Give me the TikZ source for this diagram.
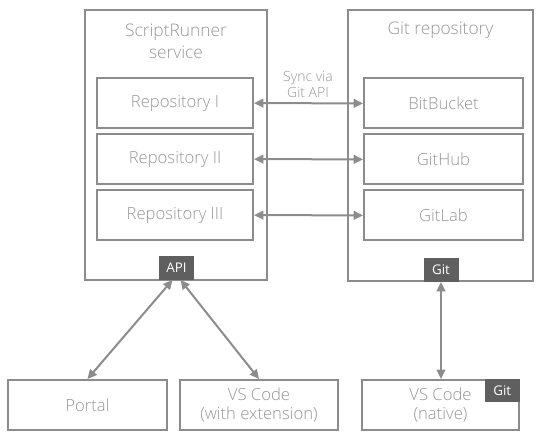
\documentclass[tikz,border=0pt]{standalone}
\usepackage{fontspec}
\setmainfont{Open Sans Light}
\newfontfamily\tagfont{Open Sans}
\usetikzlibrary{arrows.meta}
\definecolor{linegray}{RGB}{140,140,140}
\definecolor{txtgray}{RGB}{150,150,150}
\definecolor{tagdark}{RGB}{95,95,95}

\tikzset{
  box/.style={draw=linegray, line width=1.5pt, text=txtgray, inner sep=0pt, align=center, font=\fontsize{12.5}{15}\selectfont},
  tag/.style={fill=tagdark, text=white, inner sep=0pt, minimum width=26.25pt, minimum height=17.5pt, font=\tagfont\fontsize{10}{11}\selectfont},
  link/.style={draw=linegray, line width=1.5pt, {Triangle[length=7pt,width=6.5pt]}-{Triangle[length=7pt,width=6.5pt]}}
}

\begin{document}
\begin{tikzpicture}[x=0.75pt,y=0.75pt,yscale=-1]
\useasboundingbox (0,0) rectangle (544,441);

% outer boxes
\node [box, minimum width=136.5pt, minimum height=202.5pt] (runner) at (176,145) {};
\node [box, minimum width=138.75pt, minimum height=203.25pt] (gitrepo) at (440.5,145.5) {};
\node [text=txtgray, align=center, font=\fontsize{13}{16.5}\selectfont] (runnerlbl) at (176,41) {ScriptRunner\\service};
\node [text=txtgray, font=\fontsize{13}{15}\selectfont] (gitlbl) at (440.5,30) {Git repository};

% repositories
\node [box, minimum width=117pt, minimum height=37.5pt] (repoA) at (175,103) {Repository I};
\node [box, minimum width=117pt, minimum height=37.5pt] (repoB) at (175,159) {Repository II};
\node [box, minimum width=117pt, minimum height=37.5pt] (repoC) at (175,215) {Repository III};
\node [box, minimum width=119.25pt, minimum height=37.5pt] (bitbucket) at (443.5,103.5) {BitBucket};
\node [box, minimum width=119.25pt, minimum height=37.5pt] (github) at (443.5,159.5) {GitHub};
\node [box, minimum width=119.25pt, minimum height=37.5pt] (gitlab) at (443.5,215.5) {GitLab};

% clients
\node [box, minimum width=119.25pt, minimum height=37.5pt] (portal) at (87.5,405) {Portal};
\node [box, minimum width=118.5pt, minimum height=37.5pt, font=\fontsize{12.5}{14}\selectfont] (vsext) at (259,405) {VS Code\\(with extension)};
\node [box, minimum width=117.75pt, minimum height=37.5pt, font=\fontsize{12.5}{14}\selectfont] (vsnative) at (440.5,405) {VS Code\\(native)};

% tags
\node [tag] (api) at (176.5,268) {API};
\node [tag] (gittag) at (441,270) {Git};
\node [tag, anchor=north east, minimum height=17pt] (vstag) at (vsnative.north east) {Git};

% sync
\node [text=txtgray, align=center, font=\fontsize{10.5}{12}\selectfont] (sync) at (308,84) {Sync via\\Git API};
\draw [link] (repoA) -- (bitbucket);
\draw [link] (repoB) -- (github);
\draw [link] (repoC) -- (gitlab);

\draw [link] ([xshift=-3pt]api.south) -- (portal.north);
\draw [link] ([xshift=3pt]api.south) -- (vsext.north);
\draw [link] (gittag.south) -- (gittag.south |- vsnative.north);

\end{tikzpicture}
\end{document}
